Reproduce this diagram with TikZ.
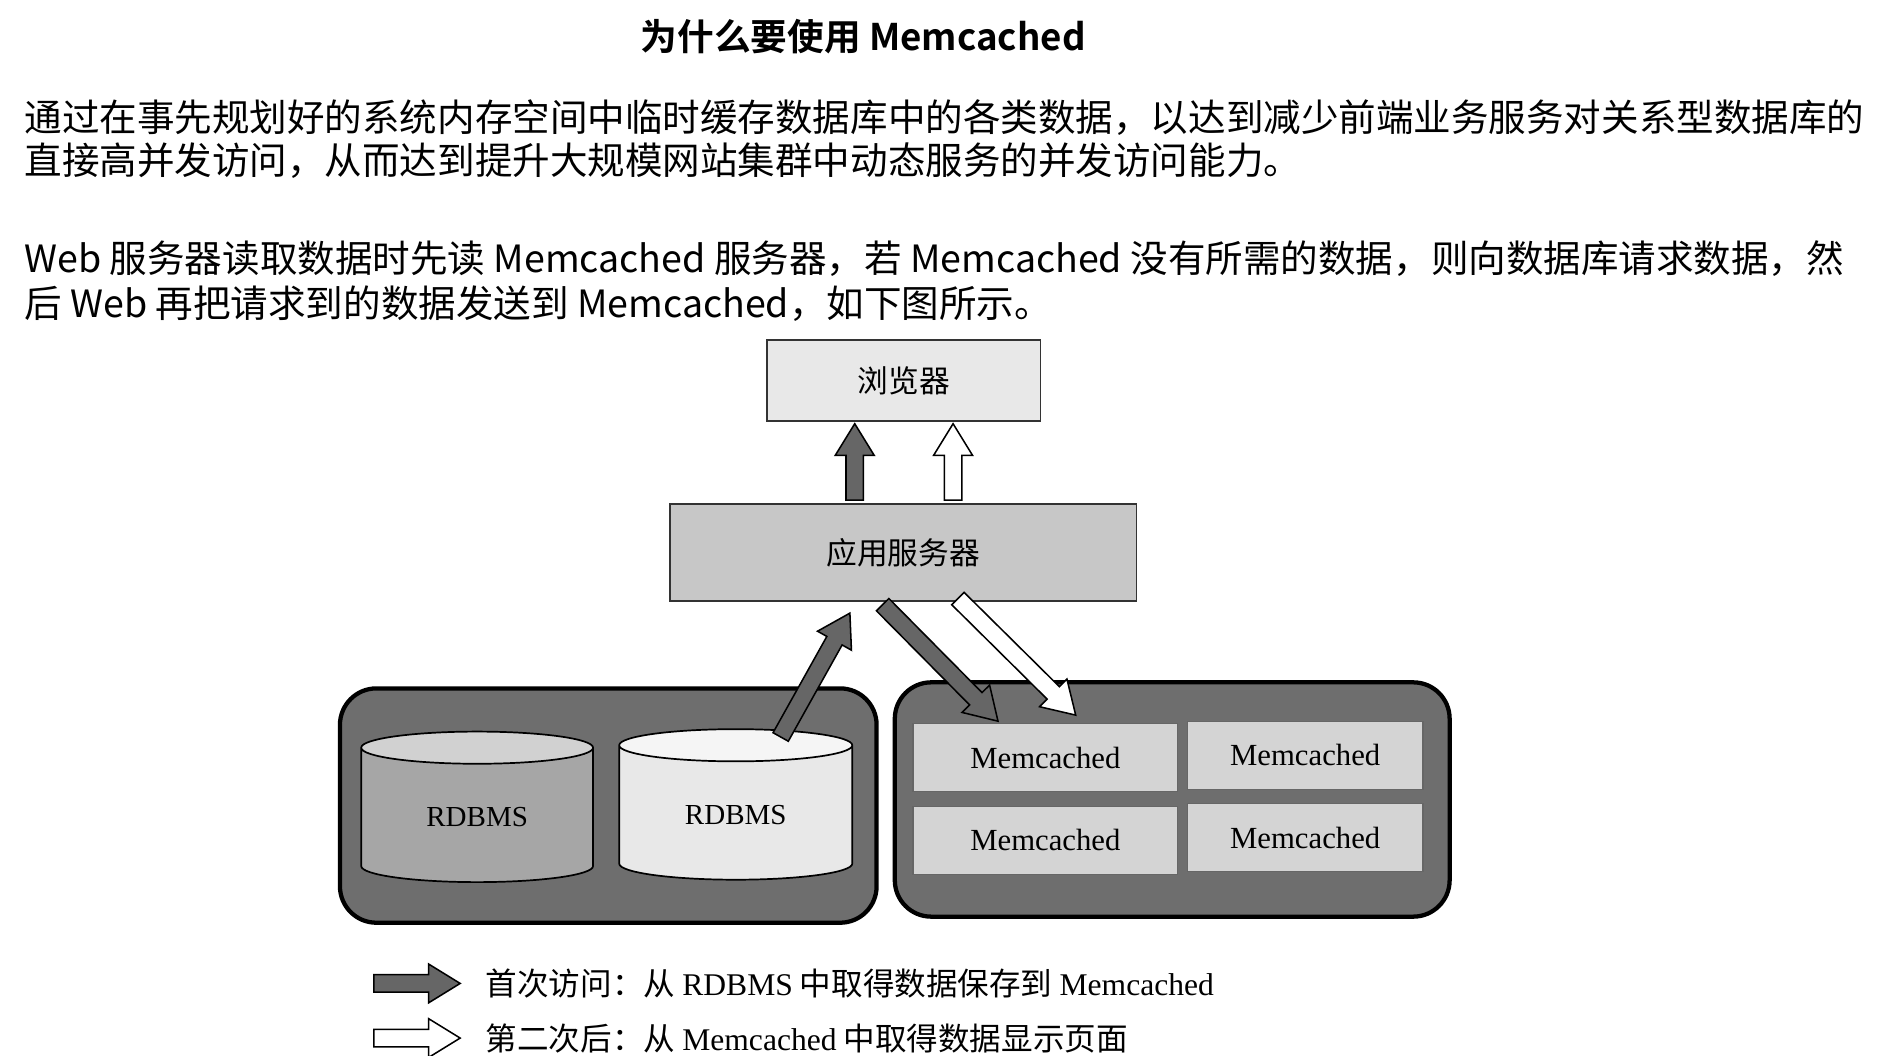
\documentclass[tikz,border=0pt]{standalone}
\usepackage{fontspec}
\setmainfont{Liberation Serif}
\newfontfamily\cjk{Noto Sans CJK SC}
\newfontfamily\cjkb{Noto Sans CJK SC Bold}
\usetikzlibrary{shapes.geometric,calc}
\definecolor{boxdark}{HTML}{6E6E6E}
\tikzset{
  top/.style={anchor=west,inner sep=0,font=\cjk\fontsize{44}{44}\selectfont},
  lbl/.style={font=\cjk\fontsize{36}{36}\selectfont},
  mem/.style={draw=black!60,line width=1.5pt,fill=black!17,minimum width=10.9cm,minimum height=2.8cm,font=\fontsize{36}{36}\selectfont},
  container/.style={draw=black,line width=5pt,fill=boxdark,rounded corners=1.5cm},
  blk/.style={draw=black,line width=1.8pt,line join=miter},
  dark/.style={blk,fill=black!60},
  light/.style={blk,fill=white},
  legend/.style={anchor=west,inner sep=0,font=\fontsize{37}{37}\selectfont},
}
\newcommand{\barrow}[3]{%
  \coordinate (hb) at ($(#3)!1.3cm!(#2)$);
  \draw[#1] ($(#2)!0.36cm!90:(#3)$) -- ($(hb)!0.36cm!90:(#3)$) -- ($(hb)!0.8cm!90:(#3)$) -- (#3)
    -- ($(hb)!0.8cm!-90:(#3)$) -- ($(hb)!0.36cm!-90:(#3)$) -- ($(#2)!0.36cm!-90:(#3)$) -- cycle;}
\begin{document}
\begin{tikzpicture}[x=0.05cm,y=-0.05cm]
\useasboundingbox (0,0) rectangle (1560,869);
\fill[white] (0,0) rectangle (1560,869);
\node[inner sep=0,font=\cjkb\fontsize{43}{43}\selectfont] (title) at (711,30) {为什么要使用 Memcached};
\node[top] (p1) at (20,97) {通过在事先规划好的系统内存空间中临时缓存数据库中的各类数据，以达到减少前端业务服务对关系型数据库的};
\node[top] (p2) at (20,132) {直接高并发访问，从而达到提升大规模网站集群中动态服务的并发访问能力。};
\node[top] (p3) at (20,213) {Web 服务器读取数据时先读 Memcached 服务器，若 Memcached 没有所需的数据，则向数据库请求数据，然};
\node[top] (p4) at (20,250) {后 Web 再把请求到的数据发送到 Memcached，如下图所示。};
% boxes
\node[draw=black!80,line width=2pt,fill=black!9,minimum width=11.25cm,minimum height=3.35cm,lbl] (browser) at (744.5,313.5) {浏览器};
\node[draw=black!80,line width=2pt,fill=black!22,minimum width=19.2cm,minimum height=4cm,lbl] (app) at (744,455) {应用服务器};
% containers
\draw[container] (280,567) rectangle (722,760);
\draw[container] (737,562) rectangle (1194,755);
% cylinders
\node[cylinder,shape border rotate=90,draw=black,line width=2pt,cylinder uses custom fill,cylinder body fill=black!35,cylinder end fill=black!18,aspect=0.3,minimum width=9.55cm,minimum height=6.2cm,font=\fontsize{34}{34}\selectfont] (db1) at (393,673) {RDBMS};
\node[cylinder,shape border rotate=90,draw=black,line width=2pt,cylinder uses custom fill,cylinder body fill=black!9,cylinder end fill=black!4,aspect=0.3,minimum width=9.6cm,minimum height=6.2cm,font=\fontsize{34}{34}\selectfont] (db2) at (606,671) {RDBMS};
% memcached
\node[mem] (m1) at (861,624) {Memcached};
\node[mem,minimum width=9.7cm] (m2) at (1075,622) {Memcached};
\node[mem] (m3) at (861,692) {Memcached};
\node[mem,minimum width=9.7cm] (m4) at (1075,690) {Memcached};
% arrows
\coordinate (a1s) at (704,412); \coordinate (a1e) at (704,349);
\coordinate (a2s) at (785,412); \coordinate (a2e) at (785,349);
\coordinate (a3s) at (643,607); \coordinate (a3e) at (700,505);
\coordinate (a4s) at (727,498); \coordinate (a4e) at (822,594);
\coordinate (a5s) at (789,493); \coordinate (a5e) at (886,589);
\barrow{dark}{a1s}{a1e}
\barrow{light}{a2s}{a2e}
\barrow{dark}{a3s}{a3e}
\barrow{dark}{a4s}{a4e}
\barrow{light}{a5s}{a5e}
% legend
\coordinate (l1s) at (308,810); \coordinate (l1e) at (379,810);
\coordinate (l2s) at (308,855); \coordinate (l2e) at (379,855);
\barrow{dark}{l1s}{l1e}
\barrow{light}{l2s}{l2e}
\node[legend] (leg1) at (400,810) {{\cjk 首次访问：从 }RDBMS{\cjk{} 中取得数据保存到 }Memcached};
\node[legend] (leg2) at (400,855) {{\cjk 第二次后：从 }Memcached{\cjk{} 中取得数据显示页面}};
\end{tikzpicture}
\end{document}
